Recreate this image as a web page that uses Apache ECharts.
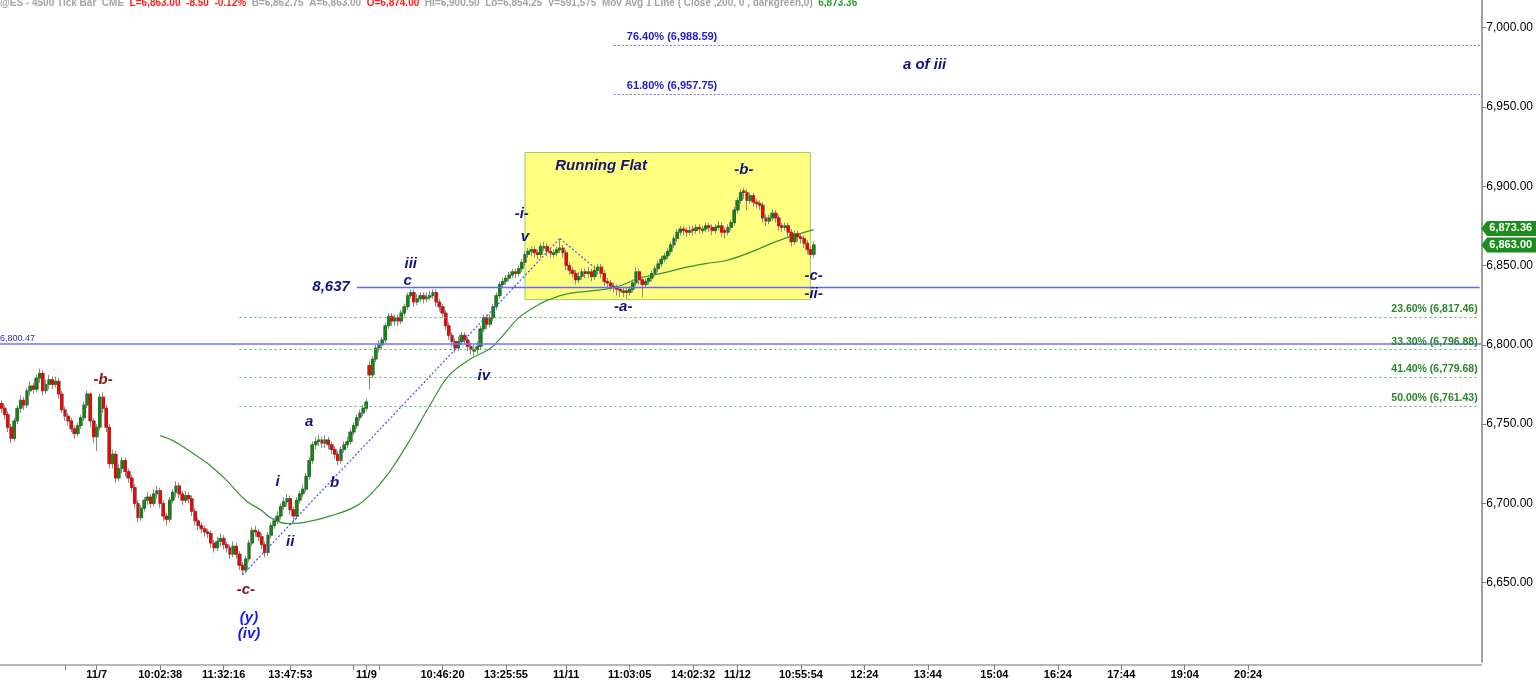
<!DOCTYPE html>
<html><head><meta charset="utf-8">
<style>html,body{margin:0;padding:0;background:#fff}#c{width:1536px;height:684px}</style>
<script src="https://cdn.jsdelivr.net/npm/echarts@6/dist/echarts.min.js"></script>
</head><body><div id="c"></div>
<script>
// ---- candle data (index = bar number) ----
const opens = [
6763,6760,6756,6748,6741,6752,6760,6765,6762,6771,
6774,6772,6779,6782,6771,6775,6778,6775,6777,6769,
6759,6755,6752,6747,6744,6749,6754,6762,6769,6752,
6742,6748,6767,6760,6748,6725,6731,6716,6722,6727,
6720,6716,6710,6700,6691,6697,6702,6704,6700,6706,
6708,6700,6692,6690,6702,6707,6711,6706,6702,6705,
6703,6695,6689,6686,6684,6682,6681,6675,6672,6676,
6678,6674,6672,6668,6673,6668,6661,6658,6665,6675,
6683,6682,6679,6674,6669,6680,6686,6689,6692,6698,
6701,6703,6696,6692,6702,6706,6709,6717,6727,6737,
6739,6740,6738,6740,6737,6734,6731,6727,6734,6737,
6739,6745,6749,6754,6757,6760,6787,6781,6791,6798,
6800,6803,6812,6818,6815,6817,6815,6820,6824,6831,
6833,6827,6829,6831,6829,6830,6831,6833,6827,6824,
6820,6812,6806,6802,6798,6802,6806,6803,6799,6796,
6797,6799,6810,6817,6813,6817,6824,6831,6838,6840,
6842,6844,6846,6845,6848,6852,6857,6859,6860,6858,
6857,6861,6862,6859,6857,6858,6860,6861,6858,6850,
6847,6845,6841,6843,6846,6845,6846,6843,6847,6849,
6845,6840,6839,6837,6836,6835,6833,6834,6833,6835,
6839,6846,6841,6838,6840,6842,6845,6848,6851,6854,
6856,6859,6863,6867,6871,6873,6872,6871,6873,6872,
6874,6872,6873,6875,6874,6872,6874,6875,6872,6871,
6874,6877,6885,6891,6897,6896,6891,6894,6890,6889,
6888,6880,6878,6880,6883,6880,6875,6874,6875,6871,
6865,6870,6868,6867,6864,6860,6857];
const closes = [
6760,6756,6748,6741,6752,6760,6765,6762,6771,6774,
6772,6779,6782,6771,6775,6778,6775,6777,6769,6759,
6755,6752,6747,6744,6749,6754,6762,6769,6752,6742,
6748,6767,6760,6748,6725,6731,6716,6722,6727,6720,
6716,6710,6700,6691,6697,6702,6704,6700,6706,6708,
6700,6692,6690,6702,6707,6711,6706,6702,6705,6703,
6695,6689,6686,6684,6682,6681,6675,6672,6676,6678,
6674,6672,6668,6673,6668,6661,6658,6665,6675,6683,
6682,6679,6674,6669,6680,6686,6689,6692,6698,6701,
6703,6696,6692,6702,6706,6709,6717,6727,6737,6739,
6740,6738,6740,6737,6734,6731,6727,6734,6737,6739,
6745,6749,6754,6757,6760,6764,6781,6791,6798,6800,
6803,6812,6818,6815,6817,6815,6820,6824,6831,6833,
6827,6829,6831,6829,6830,6831,6833,6827,6824,6820,
6812,6806,6802,6798,6802,6806,6803,6799,6797,6797,
6799,6810,6817,6813,6817,6824,6831,6838,6840,6842,
6844,6846,6845,6848,6852,6857,6859,6860,6858,6857,
6862,6862,6859,6858,6858,6860,6861,6858,6850,6847,
6845,6841,6843,6846,6845,6846,6843,6847,6849,6845,
6840,6839,6837,6836,6835,6834,6834,6833,6835,6839,
6846,6841,6838,6840,6842,6845,6848,6851,6854,6856,
6859,6863,6867,6871,6873,6872,6871,6872,6872,6874,
6873,6873,6875,6874,6872,6874,6875,6871,6871,6874,
6877,6885,6891,6896,6896,6891,6894,6890,6889,6888,
6880,6878,6880,6883,6880,6875,6874,6875,6871,6865,
6870,6868,6867,6864,6860,6857,6863];
const lows = [
6757,6753,6745,6738,6739,6750,6757,6759,6760,6768,
6769,6770,6776,6768,6769,6772,6772,6773,6766,6757,
6752,6749,6745,6741,6742,6747,6752,6760,6748,6738,
6733,6746,6757,6745,6722,6722,6713,6714,6719,6717,
6713,6707,6697,6688,6689,6695,6699,6697,6698,6703,
6697,6689,6686,6688,6700,6704,6703,6699,6700,6700,
6692,6686,6683,6681,6679,6678,6672,6669,6670,6673,
6671,6669,6665,6666,6665,6658,6655,6656,6663,6673,
6679,6676,6671,6666,6667,6678,6684,6687,6690,6696,
6698,6693,6688,6690,6700,6704,6707,6715,6725,6734,
6736,6735,6735,6734,6731,6728,6724,6725,6732,6735,
6737,6743,6747,6752,6755,6758,6772,6779,6789,6795,
6797,6801,6810,6812,6812,6812,6813,6818,6822,6829,
6824,6825,6827,6826,6827,6828,6829,6824,6821,6817,
6809,6803,6799,6795,6796,6800,6800,6796,6794,6793,
6794,6797,6808,6810,6811,6815,6822,6829,6836,6838,
6840,6842,6842,6843,6846,6850,6855,6856,6855,6854,
6855,6859,6856,6855,6855,6856,6858,6855,6847,6844,
6842,6838,6839,6841,6842,6842,6840,6841,6844,6842,
6837,6836,6834,6833,6831,6830,6830,6829,6831,6833,
6837,6838,6830,6836,6838,6840,6843,6846,6849,6852,
6854,6857,6861,6865,6869,6869,6868,6869,6869,6870,
6870,6870,6871,6871,6869,6870,6872,6868,6867,6869,
6872,6875,6883,6889,6892,6885,6889,6887,6886,6885,
6877,6875,6876,6878,6877,6872,6871,6872,6868,6862,
6863,6865,6864,6861,6857,6854,6855];
const highs = [
6765,6762,6758,6750,6754,6762,6768,6767,6773,6777,
6776,6781,6785,6784,6778,6781,6780,6780,6779,6771,
6761,6757,6754,6749,6751,6756,6764,6771,6770,6754,
6750,6769,6770,6762,6750,6734,6733,6725,6729,6729,
6722,6718,6712,6702,6699,6704,6707,6706,6709,6711,
6710,6702,6694,6704,6709,6714,6713,6708,6708,6707,
6705,6697,6691,6688,6686,6684,6683,6677,6679,6681,
6680,6676,6674,6676,6675,6670,6663,6667,6677,6685,
6686,6684,6681,6676,6682,6688,6691,6695,6700,6704,
6706,6705,6698,6704,6708,6712,6719,6729,6739,6742,
6743,6742,6743,6742,6739,6736,6733,6736,6739,6742,
6747,6751,6756,6759,6762,6766,6790,6793,6800,6803,
6805,6814,6820,6820,6819,6819,6822,6826,6833,6835,
6835,6832,6833,6833,6833,6834,6835,6835,6829,6826,
6822,6814,6808,6804,6805,6808,6808,6805,6801,6800,
6802,6812,6819,6819,6819,6826,6833,6840,6842,6844,
6846,6848,6848,6850,6854,6859,6861,6862,6862,6860,
6864,6865,6864,6861,6860,6862,6866,6863,6860,6852,
6849,6847,6846,6848,6848,6849,6848,6850,6851,6851,
6847,6842,6841,6839,6838,6837,6836,6836,6837,6841,
6849,6848,6843,6842,6844,6847,6850,6853,6856,6858,
6861,6865,6869,6873,6875,6875,6874,6875,6875,6876,
6876,6875,6877,6877,6876,6876,6878,6877,6874,6876,
6879,6887,6893,6898,6899,6898,6896,6896,6892,6891,
6890,6882,6882,6885,6885,6882,6877,6877,6877,6873,
6872,6872,6870,6869,6866,6862,6865];

// ---- x axis: bar slots (incl. empty future space) and tick labels ----
const slotCount = 467;
const tickLabelIdx = [30,50,70,91,115,139,159,178,198,218,232,252,272,292,313,333,353,373,393];
const tickLabels = ['11/7','10:02:38','11:32:16','13:47:53','11/9','10:46:20','13:25:55','11/11','11:03:05','14:02:32','11/12','10:55:54','12:24','13:44','15:04','16:24','17:44','19:04','20:24'];
const extraTickIdx = [20,111,119];

// ---- 200-period moving average, read at selected bars ----
const maIdx = [50,54,59,65,71,77,82,85,90,95,104,112,118,123,129,135,141,148,154,158,163,169,172,178,193,201,208,215,222,228,235,245,256];
const maVal = [6742.7,6739.6,6733.3,6725.1,6714.4,6701.8,6695.5,6690.7,6687.3,6687.9,6692.3,6698.6,6709.3,6721.9,6740.9,6761.7,6780.6,6791.3,6797.6,6805.8,6817,6825,6828,6832,6836,6842,6845,6848.5,6851.2,6853,6857.5,6865.7,6872.6];

// ---- levels ----
const supportLevel = 6800.47;
const waveLevel = 6836.5, waveLevelText = '8,637', waveLevelStart = 112;
const fibGreenLevels = [6817.46,6796.88,6779.68,6761.43];
const fibGreenPct = ['23.60%','33.30%','41.40%','50.00%'];
const fibGreenStart = 75;
const fibBlueLevels = [6988.59,6957.75];
const fibBluePct = ['76.40%','61.80%'];
const fibBlueStart = 193;
const waveLineIdx = [76,176,187];
const waveLineVal = [6655,6867,6848.6];
const boxIdx = [165,255];
const boxVal = [6921.2,6828.5];
const priceTags = [6873.36,6863.00];

// ---- annotations (bar index, price, text, kind) ----
const annIdx  = [32.3,76.7,77.7,78.3,86.5,91.2,96.9,104.8,128.7,128.1,152.0,164.3,164.6,188.6,234.3,256.4,256.4,195.5,290.7];
const annVal  = [6778.1,6645.6,6628.0,6617.9,6713.7,6675.9,6751.6,6713.1,6851.2,6840.5,6780.6,6882.7,6868.2,6913.0,6910.5,6843.6,6832.3,6824.1,6976.7];
const annText = ['-b-','-c-','(y)','(iv)','i','ii','a','b','iii','c','iv','-i-','v','Running Flat','-b-','-c-','-ii-','-a-','a of iii'];
const annKind = ['red','red','blue','blue','navy','navy','navy','navy','navy','navy','navy','navy','navy','navy','navy','navy','navy','navy','navy'];

const kindColor = {red:'#8b1010', blue:'#1a1ae6', navy:'#14147e'};
const FONT = 'Arial, "Liberation Sans", sans-serif';
const fmt = v => v.toLocaleString('en-US',{minimumFractionDigits:2,maximumFractionDigits:2});

const labelMap = {};
tickLabelIdx.forEach((k,j)=>{ labelMap[k] = tickLabels[j]; });
const tickSet = new Set(tickLabelIdx.concat(extraTickIdx));
const categories = Array.from({length: slotCount}, (_, i) => 's' + i);
const candleData = closes.map((c,i)=>[opens[i], c, lows[i], highs[i]]);
// body-only view of the same candles (wicks drawn by the grey layer underneath)
const bodyData = closes.map((c,i)=>[opens[i], c, Math.min(opens[i], c), Math.max(opens[i], c)]);
const lastSlot = slotCount - 1;

// full-width support line
const fullLines = [{yAxis: supportLevel, lineStyle:{color:'#7070ff', width:1.5, type:'solid'},
  label:{show:true, position:'insideStartTop', formatter: fmt(supportLevel), color:'#2a2ad0', fontSize:9, fontFamily:FONT, distance:[0,1]}}];

// partial segments
const segLines = [];
segLines.push([{coord:[waveLevelStart, waveLevel], lineStyle:{color:'#6464ff', width:1.4, type:'solid'},
  label:{show:true, position:'start', formatter: waveLevelText, color:'#14147e', fontSize:15, fontStyle:'italic', fontWeight:'bold', fontFamily:FONT, distance:7}},
  {coord:[lastSlot, waveLevel]}]);
fibGreenLevels.forEach((v,k)=>{
  segLines.push([{coord:[fibGreenStart, v], lineStyle:{color:'#5fae5f', width:1, type:[2,3]},
    label:{show:true, position:'insideEndTop', formatter: fibGreenPct[k] + ' (' + fmt(v) + ')', color:'#2a862a', fontSize:10.5, fontWeight:'bold', fontFamily:FONT, distance:[2,2]}},
    {coord:[lastSlot, v]}]);
});
fibBlueLevels.forEach((v,k)=>{
  segLines.push([{coord:[fibBlueStart, v], lineStyle:{color:'#7474f2', width:1, type:[2,2]},
    label:{show:true, position:'insideStartTop', formatter: fibBluePct[k] + ' (' + fmt(v) + ')', color:'#1c1cd0', fontSize:11, fontWeight:'bold', fontFamily:FONT, distance:[13,3]}},
    {coord:[lastSlot, v]}]);
});
const waveSegs = [];
for (let k = 0; k < waveLineIdx.length - 1; k++) {
  waveSegs.push([{coord:[waveLineIdx[k], waveLineVal[k]]}, {coord:[waveLineIdx[k+1], waveLineVal[k+1]]}]);
}

const annData = annText.map((t,k)=>({name:t, value:[annIdx[k], annVal[k]],
  label:{color: kindColor[annKind[k]]}}));

const option = {
  animation:false,
  backgroundColor:'#ffffff',
  title:{
    left:0, top:-2, padding:[0,0,0,0],
    text:'{g|@ES - 4500 Tick Bar  CME  }{r|L=6,863.00  -8.50  -0.12%}{g|  B=6,862.75  A=6,863.00  }{r|O=6,874.00}{g|  Hi=6,900.50  Lo=6,854.25  V=591,575  Mov Avg 1 Line ( Close ,200, 0 , darkgreen,0)  }{k|6,873.36}',
    textStyle:{fontSize:10, fontFamily:FONT, rich:{
      g:{color:'#a4a4a4', fontSize:10, fontFamily:FONT},
      r:{color:'#ff2020', fontSize:10, fontFamily:FONT},
      k:{color:'#2e9a2e', fontSize:10, fontFamily:FONT}}}
  },
  grid:{left:0, right:54, top:0, bottom:22},
  xAxis:{
    type:'category', data:categories, boundaryGap:true, offset:3,
    axisLine:{show:true, lineStyle:{color:'#a0a0a0', width:1.5}},
    axisTick:{show:true, alignWithLabel:true, length:5, lineStyle:{color:'#808080'},
      interval:(i)=>tickSet.has(i)},
    axisLabel:{interval:(i)=>labelMap[i]!==undefined, formatter:(v,i)=>labelMap[i]||'',
      color:'#000', fontSize:11, fontWeight:'bold', fontFamily:FONT, margin:4, hideOverlap:false},
    splitLine:{show:false}
  },
  yAxis:{
    type:'value', position:'right', min:6600, max:7017.4, interval:50, scale:true,
    axisLine:{show:true, lineStyle:{color:'#a0a0a0', width:2}},
    axisTick:{show:true, length:5, lineStyle:{color:'#808080'}},
    axisLabel:{formatter:(v)=>fmt(v), color:'#000', fontSize:12, fontFamily:FONT, margin:5, showMinLabel:false, showMaxLabel:false},
    splitLine:{show:false}
  },
  series:[
    {
      type:'line', name:'box', data:[], z:1, silent:true,
      markArea:{silent:true, data:[[
        {coord:[boxIdx[0], boxVal[0]], itemStyle:{color:'#ffff80', borderColor:'#9ccc65', borderWidth:1}},
        {coord:[boxIdx[1], boxVal[1]]}]]},
      markLine:{silent:true, symbol:['none','none'], animation:false, label:{show:false},
        lineStyle:{color:'#7070ff'}, data:fullLines.concat(segLines)}
    },
    {
      type:'line', name:'waves', data:[], z:2, silent:true, color:'#4a4aff',
      markLine:{silent:true, symbol:['none','none'], animation:false, label:{show:false},
        lineStyle:{color:'#4a4aff', width:1.2, type:[2,2]}, data:waveSegs}
    },
    {
      type:'line', name:'MA200', z:2, silent:true, smooth:0.4, showSymbol:false,
      data: maIdx.map((x,k)=>[x, maVal[k]]),
      lineStyle:{color:'#339633', width:1.2}
    },
    {
      type:'candlestick', name:'ES wicks', z:3, silent:true, data:candleData, barWidth:3.6,
      itemStyle:{color:'#8a8a8a', color0:'#8a8a8a', borderColor:'#8a8a8a', borderColor0:'#8a8a8a', borderWidth:1}
    },
    {
      type:'candlestick', name:'ES', z:4, silent:true, data:bodyData, barWidth:2.4,
      itemStyle:{color:'#0f8f0f', color0:'#ff0000', borderColor:'#0a7a0a', borderColor0:'#e00000', borderWidth:0.8},
      markPoint:{
        silent:true, animation:false,
        symbol:'path://M0,7L6,0L56,0L56,14L6,14Z', symbolSize:[55,15], symbolOffset:[29,0], symbolKeepAspect:false,
        itemStyle:{color:'#1e8c1e'},
        label:{show:true, position:'inside', color:'#fff', fontSize:11, fontWeight:'bold', fontFamily:FONT, offset:[2,0], formatter:(p)=>fmt(p.value)},
        data: priceTags.map(v=>({coord:[lastSlot, v], value:v}))
      }
    },
    {
      type:'scatter', name:'labels', z:6, silent:true, symbolSize:0, data:annData,
      itemStyle:{color:'transparent'},
      label:{show:true, position:'inside', formatter:'{b}', fontSize:15, fontStyle:'italic', fontWeight:'bold', fontFamily:FONT,
        textBorderWidth:0, textBorderColor:'transparent', textShadowBlur:0, opacity:1}
    }
  ]
};
const chart = echarts.init(document.getElementById('c'), null, {renderer:'canvas'});
chart.setOption(option);
</script>
</body></html>
